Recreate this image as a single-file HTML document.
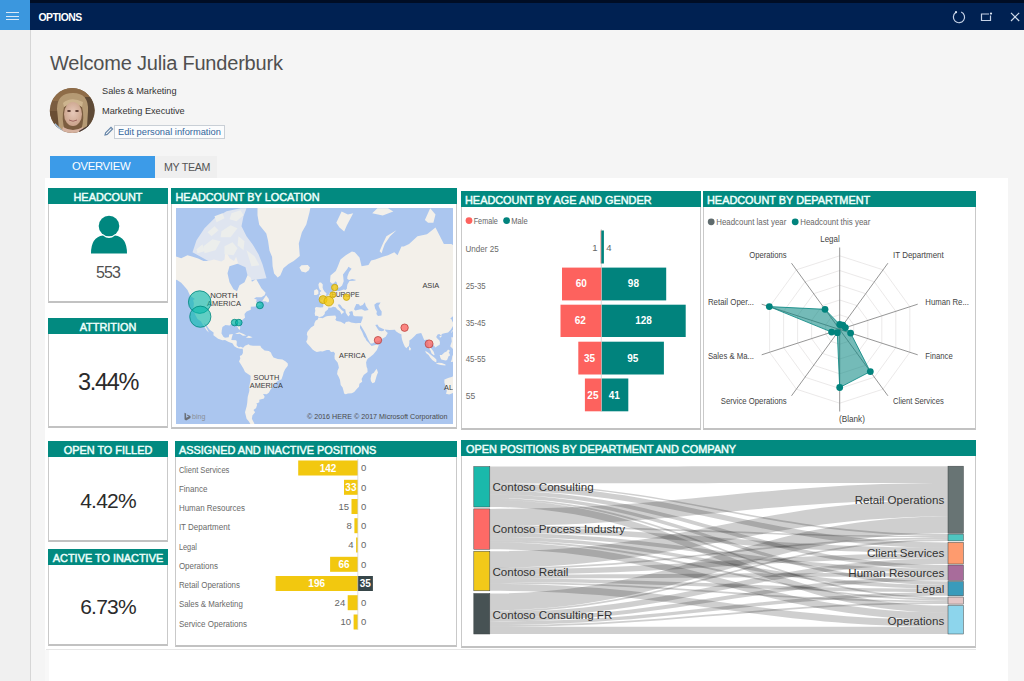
<!DOCTYPE html>
<html><head><meta charset="utf-8">
<style>
*{margin:0;padding:0;box-sizing:border-box}
html,body{width:1024px;height:681px;overflow:hidden;background:#f5f5f5;font-family:"Liberation Sans",sans-serif;position:relative}
.abs{position:absolute}
#topbar{left:0;top:0;width:1024px;height:30px;background:#002152;border-top:3px solid #000d24}
#ham{left:0;top:0;width:30px;height:30px;background:#3b97de}
#ham i{position:absolute;left:6px;width:13px;height:1.4px;background:#dbeaf7}
#opts{left:38.5px;top:11.5px;color:#fff;font-size:10.4px;font-weight:bold;letter-spacing:-0.5px}
#side{left:0;top:30px;width:31px;height:651px;background:#f0f0f0;border-right:1px solid #d6d6d6}
#canvas{left:45px;top:178px;width:963px;height:503px;background:#fff}
.card{position:absolute;background:#fff;border:1px solid #c9c9c9;border-bottom:2px solid #c2c2c2}
.hdr{position:absolute;left:-1px;top:-1px;right:-1px;height:15.5px;background:#028a80;color:#effffc;font-weight:normal;-webkit-text-stroke:0.45px #effffc;font-size:10.9px;line-height:19px;white-space:nowrap;overflow:hidden}
.kpi{position:absolute;left:0;right:0;text-align:center;color:#2b2b2b;font-size:21px;letter-spacing:-0.8px;line-height:24px}
.lbl{position:absolute;white-space:nowrap}
</style></head><body>
<div id="topbar" class="abs"></div>
<div id="ham" class="abs"><i style="top:12px"></i><i style="top:15.5px"></i><i style="top:19px"></i></div>
<div id="opts" class="abs">OPTIONS</div>
<div id="side" class="abs"></div>
<div id="canvas" class="abs"></div>
<div class="abs" style="left:46px;top:649px;width:930px;height:1px;background:#e6e6e6"></div>
<div class="abs" style="left:45px;top:650px;width:4px;height:31px;background:#f8f8f8"></div>

<!-- welcome -->
<div class="abs" style="left:50px;top:52px;font-size:20px;letter-spacing:-0.2px;color:#505050;white-space:nowrap">Welcome Julia Funderburk</div>
<svg class="abs" style="left:49px;top:87px" width="47" height="47" viewBox="0 0 47 47">
 <defs><clipPath id="av"><circle cx="23.2" cy="23.5" r="22.4"/></clipPath>
 <radialGradient id="fg" cx="0.5" cy="0.45" r="0.6"><stop offset="0" stop-color="#e6c8b8"/><stop offset="1" stop-color="#c8a088"/></radialGradient></defs>
 <g clip-path="url(#av)">
  <rect width="47" height="47" fill="#7b5d40"/>
  <rect x="0" y="0" width="47" height="14" fill="#8e6c48"/>
  <rect x="36" y="10" width="11" height="37" fill="#5e4a36"/>
  <rect x="0" y="24" width="10" height="23" fill="#6a4e34"/>
  <path d="M8 22 Q8 6 24 6 Q40 6 39 24 L38 40 L32 44 Q36 30 33 20 Q24 12 15 20 Q12 32 16 44 L10 42 Z" fill="#b59a74"/>
  <path d="M14 16 Q22 9 34 15 L33 20 Q24 13 15 20Z" fill="#cdb48e"/>
  <ellipse cx="24" cy="27" rx="9" ry="12" fill="url(#fg)"/>
  <path d="M14 40 Q24 46 34 40 L36 47 L12 47Z" fill="#d6b2a0"/>
  <path d="M6 36 Q12 42 17 47 L4 47Z" fill="#a7c6e6"/>
  <path d="M30 44 L40 38 L44 47 L30 47Z" fill="#3e3430"/>
  <ellipse cx="20" cy="24" rx="1.9" ry="0.9" fill="#5a3a30"/>
  <ellipse cx="28" cy="24" rx="1.9" ry="0.9" fill="#5a3a30"/>
  <path d="M20 33 Q24 35.5 28 33" stroke="#a06860" stroke-width="1" fill="none"/>
 </g>
</svg>
<div class="abs" style="left:102px;top:85.5px;font-size:9.2px;color:#333;white-space:nowrap">Sales &amp; Marketing</div>
<div class="abs" style="left:102px;top:105.5px;font-size:9.2px;color:#333;white-space:nowrap">Marketing Executive</div>
<svg class="abs" style="left:103px;top:126px" width="11" height="11" viewBox="0 0 11 11"><path d="M2 9 L2.6 6.8 L8 1.4 L9.6 3 L4.2 8.4 Z" fill="none" stroke="#6585a8" stroke-width="1.1"/></svg>
<div class="abs" style="left:114px;top:124.5px;width:110.5px;height:14px;border:1px solid #c9cfd6;background:#fbfcfd"></div>
<div class="abs" style="left:118px;top:127px;font-size:9.3px;color:#33669c;white-space:nowrap">Edit personal information</div>
<div class="abs" style="left:50px;top:156px;width:104.5px;height:21.5px;background:#3c9be8"></div>
<div class="abs" style="left:72px;top:160px;font-size:11.3px;letter-spacing:-0.3px;color:#fff;white-space:nowrap">OVERVIEW</div>
<div class="abs" style="left:154.5px;top:156px;width:62px;height:22px;background:#efefef"></div>
<div class="abs" style="left:164px;top:161px;font-size:10.7px;letter-spacing:-0.3px;color:#555;white-space:nowrap">MY TEAM</div>
<!-- window icons -->
<svg class="abs" style="left:940px;top:0" width="84" height="30" viewBox="940 0 84 30">
 <path d="M961.2 12 A5.6 5.6 0 1 1 955.7 12.6" fill="none" stroke="#c5d2e6" stroke-width="1.2"/>
 <circle cx="956" cy="12.2" r="1.1" fill="#dde6f2"/>
 <path d="M989 14 L981.5 14 L981.5 20.5 L990.5 20.5 L990.5 15.5" fill="none" stroke="#c5d2e6" stroke-width="1.2"/>
 <circle cx="991" cy="13.6" r="1.1" fill="#dde6f2"/>
 <path d="M1011 12.8 L1019.2 21 M1019.2 12.8 L1011 21" stroke="#d0dbea" stroke-width="1.2"/>
</svg>

<!-- cards -->
<div class="card" style="left:48px;top:188px;width:120px;height:115px"><div class="hdr" style="text-align:center">HEADCOUNT</div>
  <svg class="abs" style="left:41px;top:26px" width="38" height="40" viewBox="0 0 38 40"><circle cx="19" cy="11" r="10.3" fill="#00877f"/><path d="M1 38.5 Q1 22 13 20.5 Q19 25.5 25 20.5 Q37 22 37 38.5 Z" fill="#00877f"/></svg>
  <div class="kpi" style="top:72px;font-size:16px;letter-spacing:-0.9px;color:#505050">553</div></div>
<div class="card" style="left:48px;top:318px;width:120px;height:110px"><div class="hdr" style="text-align:center">ATTRITION</div>
  <div class="kpi" style="top:51px;font-size:23.5px;letter-spacing:-1.3px">3.44%</div></div>
<div class="card" style="left:48px;top:441px;width:120px;height:101px"><div class="hdr" style="text-align:center">OPEN TO FILLED</div>
  <div class="kpi" style="top:47px">4.42%</div></div>
<div class="card" style="left:48px;top:549px;width:120px;height:97px"><div class="hdr" style="text-align:center">ACTIVE TO INACTIVE</div>
  <div class="kpi" style="top:45px">6.73%</div></div>
<div class="card" style="left:171px;top:188px;width:286px;height:241px"><div class="hdr" style="padding-left:4.5px">HEADCOUNT BY LOCATION</div></div>
<div class="card" style="left:461px;top:191px;width:240px;height:239px"><div class="hdr" style="padding-left:4px">HEADCOUNT BY AGE AND GENDER</div></div>
<div class="card" style="left:703px;top:191px;width:273px;height:239px"><div class="hdr" style="padding-left:4px">HEADCOUNT BY DEPARTMENT</div></div>
<div class="card" style="left:175px;top:441px;width:282px;height:206px"><div class="hdr" style="padding-left:4px">ASSIGNED AND INACTIVE POSITIONS</div></div>
<div class="card" style="left:461px;top:440px;width:515px;height:208px"><div class="hdr" style="padding-left:5px">OPEN POSITIONS BY DEPARTMENT AND COMPANY</div></div>

<!-- map -->
<svg class="abs" style="left:175.5px;top:207.8px" width="277.5" height="216.7" viewBox="175.5 207.8 277.5 216.7" font-family="Liberation Sans">
 <rect x="175.5" y="207.8" width="277.5" height="216.7" fill="#abc6ef"/>
 <path fill="#dfe5f0" d="M192,252 L196,240 L204,228 L214,218 L226,211 L240,208 L246,208 L243,216 L241,226 L246,236 L252,244 L258,254 L262,264 L266,278 L250,280 L240,275 L226,270 L210,262Z"/>
 <path fill="#f3f0ea" d="M165.9,173.7 L175.4,256.3 L180.7,258.0 L187.0,255.1 L192.3,256.6 L197.6,258.3 L202.9,260.8 L208.1,260.8 L213.4,259.4 L220.8,261.3 L224.0,259.4 L225.0,250.5 L229.2,258.0 L233.5,260.8 L235.6,256.6 L237.7,263.5 L233.5,269.7 L242.4,274.7 L246.1,274.2 L250.3,277.5 L251.4,281.5 L255.6,278.9 L258.8,284.4 L260.9,288.1 L265.1,292.5 L264.1,295.0 L260.9,297.1 L255.6,297.1 L253.5,298.6 L256.2,299.3 L255.6,302.0 L259.8,303.5 L260.9,304.2 L257.7,305.2 L254.6,306.3 L250.3,306.6 L250.3,309.5 L246.1,311.2 L244.0,313.8 L244.5,317.6 L241.9,319.5 L238.7,322.5 L239.7,327.7 L239.3,329.8 L237.7,328.3 L237.0,326.6 L235.6,324.3 L233.5,323.8 L230.3,324.0 L229.2,325.4 L225.0,324.7 L221.9,326.8 L221.3,330.0 L221.0,333.3 L222.9,336.6 L224.5,337.6 L228.2,337.0 L228.7,334.4 L232.4,333.9 L231.4,337.1 L230.8,339.8 L235.6,340.0 L236.3,341.4 L236.1,345.0 L238.2,347.1 L240.3,346.6 L242.4,347.6 L242.1,348.6 L239.8,348.6 L236.6,347.8 L233.8,346.1 L231.9,343.0 L228.2,341.9 L224.5,339.8 L221.9,340.0 L217.6,338.5 L212.9,335.0 L213.1,332.2 L209.2,329.5 L205.5,324.5 L203.1,322.5 L204.5,325.4 L206.4,328.3 L208.1,331.7 L208.3,332.4 L206.0,330.0 L203.9,326.6 L201.1,322.5 L200.6,321.2 L197.0,318.9 L195.0,315.1 L193.4,311.2 L192.9,307.7 L193.4,303.0 L192.6,299.9 L194.4,298.9 L192.3,297.4 L189.7,295.8 L187.0,289.9 L184.9,287.2 L180.7,282.5 L176.5,279.9 L165.9,277.5Z M242.4,347.8 L244.5,345.6 L248.2,344.0 L249.3,345.0 L252.5,345.6 L256.7,345.6 L259.8,345.5 L260.9,347.6 L264.1,350.2 L268.3,350.7 L270.4,352.2 L271.4,354.8 L273.0,357.3 L277.3,358.8 L282.0,359.2 L285.2,361.2 L287.3,363.4 L287.3,365.5 L284.6,369.1 L283.1,372.3 L282.5,374.9 L280.9,379.3 L277.8,380.4 L273.6,383.7 L272.7,386.6 L270.4,388.9 L268.3,392.5 L266.2,394.1 L262.5,393.7 L264.1,396.2 L263.5,398.2 L258.8,399.5 L258.8,402.1 L255.6,403.5 L256.7,404.2 L255.6,407.7 L253.0,409.9 L254.6,412.1 L251.9,415.2 L251.4,418.5 L252.1,420.1 L254.0,423.6 L250.3,424.5 L248.2,421.0 L246.1,418.5 L244.5,412.1 L246.1,406.3 L246.7,402.8 L247.2,396.9 L248.8,390.7 L248.8,386.0 L250.0,380.4 L250.1,375.5 L244.5,371.7 L243.0,368.6 L240.3,364.0 L238.5,361.4 L239.8,358.3 L239.3,355.8 L241.4,354.8 L242.4,352.7 L242.4,349.7 L242.1,348.6Z M318.3,317.0 L322.1,316.1 L324.2,313.8 L324.4,311.8 L327.6,309.1 L327.9,307.3 L330.5,307.6 L332.6,306.5 L335.1,307.0 L336.9,309.4 L339.5,311.0 L341.1,314.4 L340.9,314.5 L342.1,313.1 L343.7,311.7 L341.1,309.9 L338.4,306.9 L337.2,304.5 L338.7,304.0 L340.0,304.9 L342.1,307.7 L344.8,309.4 L345.3,312.5 L346.9,315.1 L347.9,316.4 L349.5,314.4 L348.5,311.8 L351.6,310.8 L352.2,311.8 L352.7,315.1 L354.3,316.1 L356.9,316.0 L362.2,316.4 L362.1,318.2 L361.1,320.7 L360.4,322.7 L360.1,324.9 L361.1,326.6 L363.2,330.0 L365.3,333.9 L367.5,338.7 L369.4,342.4 L370.1,343.3 L371.7,343.2 L374.8,341.9 L379.1,340.2 L382.2,338.2 L385.2,336.6 L387.3,332.8 L385.9,331.6 L383.6,328.7 L383.3,330.6 L381.2,331.1 L378.5,330.6 L376.9,328.3 L374.8,324.9 L376.9,324.3 L378.5,326.7 L381.7,328.3 L384.3,329.2 L389.1,329.8 L394.4,329.6 L395.4,331.1 L398.0,332.8 L401.0,334.4 L401.0,336.6 L401.7,339.8 L402.8,343.0 L404.4,346.6 L406.0,348.0 L406.7,347.1 L408.4,345.8 L408.9,342.6 L408.8,340.3 L411.0,338.7 L413.9,336.1 L416.0,333.9 L418.1,333.3 L420.7,332.8 L421.6,334.8 L423.7,339.8 L427.1,339.3 L428.1,344.0 L428.1,347.6 L430.0,350.2 L431.1,353.4 L433.4,355.0 L434.1,354.8 L433.3,351.9 L432.1,350.0 L430.2,347.6 L429.7,342.4 L432.3,344.0 L435.0,347.4 L436.9,345.7 L439.2,344.5 L439.5,342.4 L438.9,340.3 L436.6,338.1 L435.7,336.7 L437.1,334.4 L438.7,333.8 L440.8,335.2 L441.3,333.9 L443.9,333.1 L447.6,332.2 L450.3,329.5 L452.4,326.0 L452.9,323.1 L451.9,321.3 L450.8,318.9 L449.7,318.2 L452.9,315.7 L456.1,311.8 L471.9,297.4 L471.9,248.9 L461.4,250.5 L450.8,243.7 L443.4,243.7 L435.0,227.4 L426.5,234.0 L417.0,236.1 L408.6,243.7 L403.3,246.2 L401.0,246.2 L397.0,255.1 L393.8,252.1 L387.5,255.1 L382.2,256.6 L374.8,259.4 L370.6,260.3 L368.0,264.8 L361.1,266.0 L359.0,257.2 L354.3,252.1 L351.4,251.4 L345.3,255.1 L340.0,259.4 L337.4,266.0 L335.3,270.8 L330.0,275.3 L329.5,281.5 L331.6,283.5 L333.2,283.1 L335.3,281.1 L336.3,282.5 L336.9,285.4 L337.7,288.1 L339.5,287.0 L341.6,285.4 L343.2,281.1 L342.5,274.2 L344.2,272.0 L346.9,268.5 L347.9,266.5 L351.1,268.5 L348.5,272.0 L346.9,276.4 L346.7,278.5 L348.5,279.7 L351.6,278.7 L355.8,279.7 L353.7,280.5 L349.0,280.9 L346.9,284.4 L346.4,287.2 L346.6,288.1 L345.2,289.9 L343.2,289.4 L339.0,290.8 L335.8,290.8 L334.8,289.0 L335.3,284.4 L332.9,286.3 L333.3,289.0 L333.3,290.9 L331.6,291.6 L329.2,292.5 L327.9,295.1 L326.0,295.9 L324.4,298.0 L322.6,297.9 L322.1,299.6 L319.2,299.9 L321.9,301.7 L322.9,304.2 L322.6,307.0 L320.0,307.2 L315.8,306.8 L314.4,307.9 L314.8,310.5 L314.2,313.4 L314.8,315.7 L316.4,315.5 L317.9,316.4Z M318.0,317.2 L322.1,318.1 L325.3,316.4 L327.4,315.9 L334.8,315.3 L335.8,317.6 L334.8,319.5 L336.3,320.7 L340.2,321.5 L344.2,323.9 L345.3,321.9 L348.5,321.2 L350.6,322.3 L355.3,323.1 L358.0,322.7 L360.4,322.7 L359.5,326.6 L359.5,327.7 L361.7,331.7 L363.6,336.6 L364.8,338.0 L365.9,340.3 L368.0,342.4 L369.9,344.5 L371.1,345.7 L374.8,344.8 L378.3,344.2 L378.0,345.7 L376.4,349.7 L374.8,351.7 L372.7,354.3 L369.6,356.8 L367.5,358.3 L366.4,359.9 L365.6,362.4 L366.1,366.5 L366.9,368.6 L367.1,371.7 L363.2,374.9 L361.1,378.7 L361.7,381.5 L358.9,383.6 L358.5,386.6 L356.7,388.3 L353.7,391.7 L351.3,393.1 L347.4,393.4 L345.3,394.1 L343.6,393.4 L343.2,391.3 L342.1,387.2 L340.2,384.9 L339.5,379.8 L338.4,377.1 L336.6,373.9 L337.1,370.2 L338.4,367.6 L337.9,365.0 L337.1,362.4 L334.2,358.8 L334.0,355.8 L334.5,353.2 L333.2,351.6 L330.5,351.9 L328.9,349.9 L326.3,349.9 L322.1,351.4 L320.0,351.0 L316.3,351.8 L314.2,350.7 L312.1,349.3 L310.2,347.1 L308.4,345.1 L306.5,343.0 L305.7,341.2 L306.8,339.3 L307.1,336.1 L306.3,334.4 L306.8,331.7 L308.6,329.5 L310.5,327.2 L313.6,325.4 L313.9,323.1 L315.2,320.3 L317.0,319.5Z M298.9,267.3 L301.0,265.0 L307.3,264.8 L309.4,267.3 L308.4,270.1 L305.2,272.2 L301.0,271.3Z M376.2,368.6 L377.5,372.3 L376.4,374.9 L374.3,382.0 L372.0,383.1 L370.4,380.9 L370.1,378.2 L371.1,373.9 L373.3,372.5 L374.8,370.2Z M318.2,297.2 L325.6,295.6 L326.0,293.1 L324.2,291.6 L322.6,289.0 L322.1,287.2 L322.3,284.4 L320.5,282.3 L318.9,282.3 L317.9,284.4 L318.4,287.2 L319.1,289.4 L321.0,290.8 L319.3,292.0 L319.5,294.1 L321.0,295.1 L318.7,294.6Z M317.9,293.8 L317.9,290.8 L316.3,288.7 L313.6,290.4 L313.6,294.8 L315.8,294.8Z M408.6,346.3 L410.6,348.6 L409.7,350.2 L408.4,349.7Z M424.7,350.6 L427.6,352.2 L430.0,354.3 L434.4,357.8 L436.0,359.6 L435.8,362.2 L433.9,361.4 L431.8,359.9 L429.7,357.3 L428.1,354.8 L425.5,352.7Z M435.3,363.2 L438.1,362.6 L441.3,362.9 L445.0,364.3 L445.0,365.2 L440.2,364.7 L436.6,363.9Z M439.2,354.8 L439.8,357.3 L440.8,359.4 L445.0,360.4 L446.6,359.9 L448.2,355.8 L449.7,355.3 L448.2,351.9 L449.7,350.9 L447.6,349.2 L446.1,351.2 L443.9,352.4 L441.3,354.7Z M450.3,361.9 L451.3,359.4 L451.9,355.3 L456.1,354.8 L454.0,357.3 L452.9,361.4Z M450.8,337.1 L453.4,337.1 L452.9,341.9 L455.0,343.5 L457.1,347.1 L457.1,350.2 L452.9,349.2 L449.7,346.1 L451.3,341.4Z M451.0,332.8 L452.8,329.8 L451.9,330.0 L450.8,331.7Z M438.8,336.4 L440.8,335.4 L441.3,336.1 L439.7,337.5Z M443.9,379.3 L444.7,379.0 L447.6,377.7 L451.9,376.5 L456.1,371.7 L461.4,368.6 L467.7,368.6 L471.9,373.9 L477.2,371.7 L482.4,379.3 L486.1,386.0 L482.4,397.5 L473.0,398.5 L469.8,394.4 L467.7,394.4 L462.4,390.1 L456.1,391.3 L448.7,394.4 L445.5,393.5 L446.3,390.7 L445.2,386.0 L443.9,382.6Z M261.6,301.1 L265.6,295.0 L268.3,298.9 L268.6,301.2 L267.2,302.3 L265.1,301.1Z M234.5,333.6 L238.7,332.0 L242.4,333.6 L245.9,335.3 L242.4,335.6 L239.3,333.6 L236.6,333.9Z M245.6,337.2 L248.2,335.6 L252.1,337.0 L249.3,337.7 L245.8,337.6Z M335.8,222.5 L341.1,211.3 L347.4,214.3 L352.7,213.1 L346.4,225.0 L343.7,231.4 L339.0,227.4Z M379.1,251.1 L382.2,243.7 L385.9,236.1 L395.9,230.1 L389.6,236.1 L384.3,243.7 L382.2,249.5 L381.2,253.0Z M424.4,219.9 L429.7,208.1 L435.0,214.3 L432.9,222.5 L427.6,222.5Z M371.7,213.1 L376.9,208.1 L387.5,208.1 L392.8,211.3 L382.2,215.4Z M233.5,270.8 L239.3,272.0 L235.6,274.2Z"/>
 <path fill="#abc6ef" d="M353.5,309.1 L354.3,307.0 L355.8,303.9 L358.5,304.0 L359.5,305.8 L362.2,304.8 L364.3,302.0 L365.3,305.6 L368.1,309.7 L364.3,310.6 L361.1,309.1 L359.0,309.3 L354.8,310.2Z M373.8,304.5 L376.3,302.6 L380.1,302.3 L378.0,305.6 L379.6,309.1 L381.2,311.2 L381.0,315.3 L377.5,315.7 L375.9,313.8 L376.4,311.2 L374.6,308.4Z"/>
 <path fill="#abc6ef" d="M229,266 L237,263.5 L245,267 L247,275 L244,282 L239,285 L236.5,291 L233,289 L229,282 L227,273Z"/>
 <path fill="#f3f0ea" d="M257,207 L310,207 L309,212 L305.8,224.4 L301.4,232 L298.3,243.4 L299.3,255.7 L293.2,260.8 L288,263.9 L282.9,268 L279.8,275.2 L277.2,277.3 L273.6,273.2 L272.1,266 L271.6,256.7 L269,250.6 L267.5,240.3 L265.8,233.4 L258.7,224.6 L257,215Z"/>
 <path fill="#eceeec" d="M203,246 L212,239 L220,241 L215,250 L204,253Z M221,231 L230,225 L237,228 L230,237 L220,237Z M231,213 L240,210 L243,215 L236,221 L229,219Z M207,232 L214,226 L218,230 L211,236Z M224,246 L232,242 L237,248 L233,255 L224,254Z M238,236 L244,241 L243,250 L237,245Z M246,250 L254,256 L259,265 L251,266Z M196,249 L202,244 L204,251 L197,253Z M214,216 L222,213 L224,218 L216,222Z"/>
 <g fill="#3a3a3a" font-size="7.2">
  <text x="209.7" y="297.6" textLength="27.5" lengthAdjust="spacingAndGlyphs">NORTH</text>
  <text x="206.5" y="305.6" textLength="33.9" lengthAdjust="spacingAndGlyphs">AMERICA</text>
  <text x="330.7" y="296.9" textLength="28.2" lengthAdjust="spacingAndGlyphs">EUROPE</text>
  <text x="421.9" y="287.9" textLength="16.9" lengthAdjust="spacingAndGlyphs">ASIA</text>
  <text x="338.6" y="358.1" textLength="26.6" lengthAdjust="spacingAndGlyphs">AFRICA</text>
  <text x="253" y="379.5" textLength="25.7" lengthAdjust="spacingAndGlyphs">SOUTH</text>
  <text x="249.3" y="388.2" textLength="33" lengthAdjust="spacingAndGlyphs">AMERICA</text>
  <text x="443.6" y="389.8" textLength="9" lengthAdjust="spacingAndGlyphs">AL</text>
 </g>
 <circle cx="199.2" cy="301.9" r="11.3" fill="#01b8aa" fill-opacity="0.6" stroke="#01867e" stroke-width="0.8"/>
 <circle cx="199.8" cy="316.5" r="10.6" fill="#01b8aa" fill-opacity="0.6" stroke="#01867e" stroke-width="0.8"/>
 <circle cx="234.1" cy="322.4" r="3.3" fill="#01b8aa" fill-opacity="0.7" stroke="#01867e" stroke-width="0.8"/>
 <circle cx="238.3" cy="322.4" r="3.3" fill="#01b8aa" fill-opacity="0.7" stroke="#01867e" stroke-width="0.8"/>
 <circle cx="259.4" cy="305.1" r="3.5" fill="#01b8aa" fill-opacity="0.7" stroke="#01867e" stroke-width="0.8"/>
 <circle cx="334.2" cy="287.3" r="3.2" fill="#f2c80f" fill-opacity="0.8" stroke="#c9a50a" stroke-width="0.8"/>
 <circle cx="322.6" cy="299.4" r="4" fill="#f2c80f" fill-opacity="0.8" stroke="#c9a50a" stroke-width="0.8"/>
 <circle cx="328.3" cy="301" r="4.8" fill="#f2c80f" fill-opacity="0.8" stroke="#c9a50a" stroke-width="0.8"/>
 <circle cx="332.3" cy="294.6" r="3" fill="#f2c80f" fill-opacity="0.8" stroke="#c9a50a" stroke-width="0.8"/>
 <circle cx="346" cy="297" r="3.2" fill="#f2c80f" fill-opacity="0.8" stroke="#c9a50a" stroke-width="0.8"/>
 <circle cx="377.5" cy="340" r="3.7" fill="#fd625e" fill-opacity="0.75" stroke="#b9443f" stroke-width="0.8"/>
 <circle cx="404.1" cy="327.5" r="3.7" fill="#fd625e" fill-opacity="0.75" stroke="#b9443f" stroke-width="0.8"/>
 <circle cx="428.6" cy="343.7" r="4" fill="#fd625e" fill-opacity="0.75" stroke="#b9443f" stroke-width="0.8"/>
 <path d="M184 412.5 L185.6 413.2 L185.6 417.6 L188.4 416.4 L186.8 415.5 L186.3 414.4 L190 415.9 L190 417.8 L185.6 420.3 L184 419.4 Z" fill="#6a6f78"/>
 <text x="191.5" y="419" font-size="6.5" fill="#8a8f98" textLength="13.5" lengthAdjust="spacingAndGlyphs">bing</text>
 <text x="306.4" y="419.3" font-size="6.6" fill="#4a4a4a" textLength="140.6" lengthAdjust="spacingAndGlyphs">© 2016 HERE    © 2017 Microsoft Corporation</text>
</svg>

<!-- /map -->
<!-- age chart -->
<svg class="abs" style="left:0;top:0" width="1024" height="681" viewBox="0 0 1024 681" font-family="Liberation Sans">
 <circle cx="469" cy="220.6" r="3.4" fill="#fd625e"/>
 <text x="473.7" y="223.8" font-size="9" fill="#666" textLength="24.2" lengthAdjust="spacingAndGlyphs">Female</text>
 <circle cx="506.6" cy="220.6" r="3.4" fill="#01837d"/>
 <text x="511.2" y="223.8" font-size="9" fill="#666" textLength="16.4" lengthAdjust="spacingAndGlyphs">Male</text>
 <g font-size="8.7" fill="#6a6a6a">
  <text x="465.5" y="251.5" textLength="33.2" lengthAdjust="spacingAndGlyphs">Under 25</text>
  <text x="465.7" y="288.6" textLength="20" lengthAdjust="spacingAndGlyphs">25-35</text>
  <text x="465.7" y="325.5" textLength="20" lengthAdjust="spacingAndGlyphs">35-45</text>
  <text x="465.7" y="361.8" textLength="20" lengthAdjust="spacingAndGlyphs">45-55</text>
  <text x="465.7" y="399.2" textLength="9.5" lengthAdjust="spacingAndGlyphs">55</text>
 </g>
 <line x1="601.3" y1="229" x2="601.3" y2="412" stroke="#d0d0d0" stroke-width="0.8"/>
 <g fill="#fd625e">
  <rect x="600.6" y="230.5" width="0.7" height="33"/>
  <rect x="562" y="267.6" width="39.3" height="32.8"/>
  <rect x="560.5" y="304.7" width="40.8" height="32.3"/>
  <rect x="578.3" y="341.7" width="23" height="32.8"/>
  <rect x="584.9" y="378.5" width="16.4" height="32.8"/>
 </g>
 <g fill="#01837d">
  <rect x="601.3" y="230.5" width="2.6" height="33"/>
  <rect x="601.8" y="267.6" width="64.4" height="32.8"/>
  <rect x="601.8" y="304.7" width="83.9" height="32.3"/>
  <rect x="601.8" y="341.7" width="62.1" height="32.8"/>
  <rect x="601.8" y="378.5" width="26.5" height="32.8"/>
 </g>
 <g font-size="9.5" fill="#666" text-anchor="middle">
  <text x="594.8" y="251.2">1</text><text x="608.8" y="251.2">4</text>
 </g>
 <g font-size="10" font-weight="bold" fill="#fff" text-anchor="middle">
  <text x="581.2" y="287.2">60</text><text x="633.4" y="287.2">98</text>
  <text x="580.2" y="324.2">62</text><text x="643.5" y="324.2">128</text>
  <text x="589.6" y="361.6">35</text><text x="632.7" y="361.6">95</text>
  <text x="592.9" y="398.6">25</text><text x="614.2" y="398.6">41</text>
 </g>
</svg>
<!-- radar -->
<svg class="abs" style="left:0;top:0" width="1024" height="681" viewBox="0 0 1024 681" font-family="Liberation Sans">
 <circle cx="711.2" cy="221.8" r="3.4" fill="#5f6b6d"/>
 <text x="716.3" y="225" font-size="9" fill="#666" textLength="70" lengthAdjust="spacingAndGlyphs">Headcount last year</text>
 <circle cx="795.2" cy="221.8" r="3.4" fill="#01837d"/>
 <text x="800.3" y="225" font-size="9" fill="#666" textLength="70" lengthAdjust="spacingAndGlyphs">Headcount this year</text>
 <polygon points="839.7,314.8 848.4,317.6 853.7,324.9 853.7,334.1 848.4,341.4 839.7,344.2 831.0,341.4 825.7,334.1 825.7,324.9 831.0,317.6" fill="none" stroke="#e6e3e3" stroke-width="0.8"/>
 <polygon points="839.7,300.0 857.0,305.6 867.8,320.4 867.8,338.6 857.0,353.4 839.7,359.0 822.4,353.4 811.6,338.6 811.6,320.4 822.4,305.6" fill="none" stroke="#e6e3e3" stroke-width="0.8"/>
 <polygon points="839.7,285.2 865.7,293.7 881.8,315.8 881.8,343.2 865.7,365.3 839.7,373.8 813.7,365.3 797.6,343.2 797.6,315.8 813.7,293.7" fill="none" stroke="#e6e3e3" stroke-width="0.8"/>
 <polygon points="839.7,270.5 874.4,281.8 895.8,311.3 895.8,347.7 874.4,377.2 839.7,388.5 805.0,377.2 783.6,347.7 783.6,311.3 805.0,281.8" fill="none" stroke="#e6e3e3" stroke-width="0.8"/>
 <polygon points="839.7,255.8 883.0,269.8 909.8,306.7 909.8,352.3 883.0,389.2 839.7,403.2 796.4,389.2 769.6,352.3 769.6,306.7 796.4,269.8" fill="none" stroke="#e6e3e3" stroke-width="0.8"/>
 <line x1="839.7" y1="329.5" x2="839.7" y2="247.5" stroke="#8a8a8a" stroke-width="0.9"/>
 <line x1="839.7" y1="329.5" x2="887.9" y2="263.2" stroke="#8a8a8a" stroke-width="0.9"/>
 <line x1="839.7" y1="329.5" x2="917.7" y2="304.2" stroke="#8a8a8a" stroke-width="0.9"/>
 <line x1="839.7" y1="329.5" x2="917.7" y2="354.8" stroke="#8a8a8a" stroke-width="0.9"/>
 <line x1="839.7" y1="329.5" x2="887.9" y2="395.8" stroke="#8a8a8a" stroke-width="0.9"/>
 <line x1="839.7" y1="329.5" x2="839.7" y2="411.5" stroke="#8a8a8a" stroke-width="0.9"/>
 <line x1="839.7" y1="329.5" x2="791.5" y2="395.8" stroke="#8a8a8a" stroke-width="0.9"/>
 <line x1="839.7" y1="329.5" x2="761.7" y2="354.8" stroke="#8a8a8a" stroke-width="0.9"/>
 <line x1="839.7" y1="329.5" x2="761.7" y2="304.2" stroke="#8a8a8a" stroke-width="0.9"/>
 <line x1="839.7" y1="329.5" x2="791.5" y2="263.2" stroke="#8a8a8a" stroke-width="0.9"/>
 <polygon points="839.7,324.5 842.9,325.1 845.4,327.6 850.6,333.1 870.3,371.6 839.7,387.5 837.3,332.7 831.6,332.1 769.3,306.6 825.0,309.3" fill="#01837d" fill-opacity="0.55" stroke="#01837d" stroke-width="0.8"/>
 <circle cx="839.7" cy="324.5" r="3.4" fill="#01837d"/>
 <circle cx="842.9" cy="325.1" r="3.4" fill="#01837d"/>
 <circle cx="845.4" cy="327.6" r="3.4" fill="#01837d"/>
 <circle cx="850.6" cy="333.1" r="3.4" fill="#01837d"/>
 <circle cx="870.3" cy="371.6" r="3.4" fill="#01837d"/>
 <circle cx="839.7" cy="387.5" r="3.4" fill="#01837d"/>
 <circle cx="837.3" cy="332.7" r="3.4" fill="#01837d"/>
 <circle cx="831.6" cy="332.1" r="3.4" fill="#01837d"/>
 <circle cx="769.3" cy="306.6" r="3.4" fill="#01837d"/>
 <circle cx="825.0" cy="309.3" r="3.4" fill="#01837d"/>
 <g font-size="9" fill="#444">
  <text x="820.3" y="242" textLength="19.4" lengthAdjust="spacingAndGlyphs">Legal</text>
  <text x="893" y="258.4" textLength="50.7" lengthAdjust="spacingAndGlyphs">IT Department</text>
  <text x="925.3" y="304.6" textLength="43.6" lengthAdjust="spacingAndGlyphs">Human Re...</text>
  <text x="925.3" y="359.2" textLength="27.4" lengthAdjust="spacingAndGlyphs">Finance</text>
  <text x="893" y="403.8" textLength="50.7" lengthAdjust="spacingAndGlyphs">Client Services</text>
  <text x="839" y="421.6" textLength="25.9" lengthAdjust="spacingAndGlyphs">(Blank)</text>
  <text x="720.8" y="403.8" textLength="65.9" lengthAdjust="spacingAndGlyphs">Service Operations</text>
  <text x="707.9" y="359.2" textLength="46.1" lengthAdjust="spacingAndGlyphs">Sales &amp; Ma...</text>
  <text x="707.9" y="304.6" textLength="46.1" lengthAdjust="spacingAndGlyphs">Retail Oper...</text>
  <text x="749.2" y="258.4" textLength="37.5" lengthAdjust="spacingAndGlyphs">Operations</text>
 </g>
</svg>
<!-- assigned bars -->
<svg class="abs" style="left:0;top:0" width="1024" height="681" viewBox="0 0 1024 681" font-family="Liberation Sans">
 <g font-size="9.6" fill="#6a6a6a">
  <text x="178.9" y="472.6" textLength="50.5" lengthAdjust="spacingAndGlyphs">Client Services</text>
  <text x="178.9" y="491.8" textLength="28.5" lengthAdjust="spacingAndGlyphs">Finance</text>
  <text x="178.9" y="511.1" textLength="66" lengthAdjust="spacingAndGlyphs">Human Resources</text>
  <text x="178.9" y="530.3" textLength="51" lengthAdjust="spacingAndGlyphs">IT Department</text>
  <text x="178.9" y="549.6" textLength="18" lengthAdjust="spacingAndGlyphs">Legal</text>
  <text x="178.9" y="568.8" textLength="39" lengthAdjust="spacingAndGlyphs">Operations</text>
  <text x="178.9" y="588.1" textLength="61" lengthAdjust="spacingAndGlyphs">Retail Operations</text>
  <text x="178.9" y="607.3" textLength="64" lengthAdjust="spacingAndGlyphs">Sales &amp; Marketing</text>
  <text x="178.9" y="626.6" textLength="68" lengthAdjust="spacingAndGlyphs">Service Operations</text>
 </g>
 <rect x="298.2" y="460.5" width="59.6" height="15" fill="#f2c80f"/>
 <text x="361" y="471.4" font-size="9.5" fill="#666">0</text>
 <text x="328.0" y="471.6" font-size="10" font-weight="bold" fill="#fff" text-anchor="middle">142</text>
 <rect x="344.0" y="479.8" width="13.8" height="15" fill="#f2c80f"/>
 <text x="361" y="490.6" font-size="9.5" fill="#666">0</text>
 <text x="350.9" y="490.9" font-size="10" font-weight="bold" fill="#fff" text-anchor="middle">33</text>
 <rect x="351.5" y="499.0" width="6.3" height="15" fill="#f2c80f"/>
 <text x="361" y="509.9" font-size="9.5" fill="#666">0</text>
 <text x="349.0" y="509.9" font-size="9.5" fill="#666" text-anchor="end">15</text>
 <rect x="354.4" y="518.2" width="3.4" height="15" fill="#f2c80f"/>
 <text x="361" y="529.1" font-size="9.5" fill="#666">0</text>
 <text x="351.9" y="529.1" font-size="9.5" fill="#666" text-anchor="end">8</text>
 <rect x="356.1" y="537.5" width="1.7" height="15" fill="#f2c80f"/>
 <text x="361" y="548.4" font-size="9.5" fill="#666">0</text>
 <text x="353.6" y="548.4" font-size="9.5" fill="#666" text-anchor="end">4</text>
 <rect x="330.1" y="556.8" width="27.7" height="15" fill="#f2c80f"/>
 <text x="361" y="567.6" font-size="9.5" fill="#666">0</text>
 <text x="344.0" y="567.9" font-size="10" font-weight="bold" fill="#fff" text-anchor="middle">66</text>
 <rect x="275.6" y="576.0" width="82.2" height="15" fill="#f2c80f"/>
 <rect x="357.8" y="576.0" width="15.1" height="15" fill="#374649"/>
 <text x="365.3" y="587.1" font-size="10" font-weight="bold" fill="#fff" text-anchor="middle">35</text>
 <text x="316.7" y="587.1" font-size="10" font-weight="bold" fill="#fff" text-anchor="middle">196</text>
 <rect x="347.7" y="595.2" width="10.1" height="15" fill="#f2c80f"/>
 <text x="361" y="606.1" font-size="9.5" fill="#666">0</text>
 <text x="345.2" y="606.1" font-size="9.5" fill="#666" text-anchor="end">24</text>
 <rect x="353.6" y="614.5" width="4.2" height="15" fill="#f2c80f"/>
 <text x="361" y="625.4" font-size="9.5" fill="#666">0</text>
 <text x="351.1" y="625.4" font-size="9.5" fill="#666" text-anchor="end">10</text>
 <line x1="357.8" y1="459" x2="357.8" y2="630" stroke="#c8c8c8" stroke-width="0.6"/>
</svg>
<!-- sankey -->
<svg class="abs" style="left:0;top:0" width="1024" height="681" viewBox="0 0 1024 681" font-family="Liberation Sans">
 <g fill="#000" fill-opacity="0.19">
  <path d="M489.8,466.6 C682,466.6 756,466.2 948.0,466.2 L948.0,482.9 C756,482.9 682,483.5 489.8,483.5Z"/>
  <path d="M489.8,483.5 C682,483.5 756,534.1 948.0,534.1 L948.0,535.8 C756,535.8 682,485.2 489.8,485.2Z"/>
  <path d="M489.8,485.2 C682,485.2 756,542.4 948.0,542.4 L948.0,547.8 C756,547.8 682,490.6 489.8,490.6Z"/>
  <path d="M489.8,490.6 C682,490.6 756,565.0 948.0,565.0 L948.0,568.9 C756,568.9 682,494.5 489.8,494.5Z"/>
  <path d="M489.8,494.5 C682,494.5 756,581.6 948.0,581.6 L948.0,585.1 C756,585.1 682,498.1 489.8,498.1Z"/>
  <path d="M489.8,498.1 C682,498.1 756,597.0 948.0,597.0 L948.0,598.8 C756,598.8 682,499.9 489.8,499.9Z"/>
  <path d="M489.8,499.9 C682,499.9 756,605.6 948.0,605.6 L948.0,612.7 C756,612.7 682,507.0 489.8,507.0Z"/>
  <path d="M489.8,508.9 C682,508.9 756,482.9 948.0,482.9 L948.0,499.7 C756,499.7 682,525.8 489.8,525.8Z"/>
  <path d="M489.8,525.8 C682,525.8 756,535.8 948.0,535.8 L948.0,537.5 C756,537.5 682,527.5 489.8,527.5Z"/>
  <path d="M489.8,527.5 C682,527.5 756,547.8 948.0,547.8 L948.0,553.2 C756,553.2 682,532.9 489.8,532.9Z"/>
  <path d="M489.8,532.9 C682,532.9 756,568.9 948.0,568.9 L948.0,572.7 C756,572.7 682,536.8 489.8,536.8Z"/>
  <path d="M489.8,536.8 C682,536.8 756,585.1 948.0,585.1 L948.0,588.7 C756,588.7 682,540.4 489.8,540.4Z"/>
  <path d="M489.8,540.4 C682,540.4 756,598.8 948.0,598.8 L948.0,600.5 C756,600.5 682,542.2 489.8,542.2Z"/>
  <path d="M489.8,542.2 C682,542.2 756,612.7 948.0,612.7 L948.0,619.8 C756,619.8 682,549.3 489.8,549.3Z"/>
  <path d="M489.8,551.2 C682,551.2 756,499.7 948.0,499.7 L948.0,516.5 C756,516.5 682,567.7 489.8,567.7Z"/>
  <path d="M489.8,567.7 C682,567.7 756,537.5 948.0,537.5 L948.0,539.2 C756,539.2 682,569.4 489.8,569.4Z"/>
  <path d="M489.8,569.4 C682,569.4 756,553.2 948.0,553.2 L948.0,558.6 C756,558.6 682,574.7 489.8,574.7Z"/>
  <path d="M489.8,574.7 C682,574.7 756,572.7 948.0,572.7 L948.0,576.6 C756,576.6 682,578.5 489.8,578.5Z"/>
  <path d="M489.8,578.5 C682,578.5 756,588.7 948.0,588.7 L948.0,592.2 C756,592.2 682,582.0 489.8,582.0Z"/>
  <path d="M489.8,582.0 C682,582.0 756,600.5 948.0,600.5 L948.0,602.3 C756,602.3 682,583.8 489.8,583.8Z"/>
  <path d="M489.8,583.8 C682,583.8 756,619.8 948.0,619.8 L948.0,626.9 C756,626.9 682,590.8 489.8,590.8Z"/>
  <path d="M489.8,593.5 C682,593.5 756,516.5 948.0,516.5 L948.0,533.2 C756,533.2 682,610.4 489.8,610.4Z"/>
  <path d="M489.8,610.4 C682,610.4 756,539.2 948.0,539.2 L948.0,540.9 C756,540.9 682,612.1 489.8,612.1Z"/>
  <path d="M489.8,612.1 C682,612.1 756,558.6 948.0,558.6 L948.0,564.0 C756,564.0 682,617.6 489.8,617.6Z"/>
  <path d="M489.8,617.6 C682,617.6 756,576.6 948.0,576.6 L948.0,580.4 C756,580.4 682,621.5 489.8,621.5Z"/>
  <path d="M489.8,621.5 C682,621.5 756,592.2 948.0,592.2 L948.0,595.8 C756,595.8 682,625.0 489.8,625.0Z"/>
  <path d="M489.8,625.0 C682,625.0 756,602.3 948.0,602.3 L948.0,604.1 C756,604.1 682,626.8 489.8,626.8Z"/>
  <path d="M489.8,626.8 C682,626.8 756,626.9 948.0,626.9 L948.0,634.0 C756,634.0 682,634.0 489.8,634.0Z"/>
 </g>
 <rect x="473.8" y="466.6" width="16" height="40.4" fill="#1ab9ab" stroke="#3c4446" stroke-width="0.5"/>
 <rect x="473.8" y="508.9" width="16" height="40.4" fill="#fd6a66" stroke="#3c4446" stroke-width="0.5"/>
 <rect x="473.8" y="551.2" width="16" height="39.6" fill="#f2c919" stroke="#3c4446" stroke-width="0.5"/>
 <rect x="473.8" y="593.5" width="16" height="40.5" fill="#475254" stroke="#3c4446" stroke-width="0.5"/>
 <rect x="948" y="466.2" width="15.4" height="67.0" fill="#687474" stroke="#3c4446" stroke-width="0.5"/>
 <rect x="948" y="534.1" width="15.4" height="6.8" fill="#4fc6c0" stroke="#3c4446" stroke-width="0.5"/>
 <rect x="948" y="542.4" width="15.4" height="21.6" fill="#fe9b6e" stroke="#3c4446" stroke-width="0.5"/>
 <rect x="948" y="565.0" width="15.4" height="15.4" fill="#a86c9b" stroke="#3c4446" stroke-width="0.5"/>
 <rect x="948" y="581.6" width="15.4" height="14.2" fill="#3a9bbb" stroke="#3c4446" stroke-width="0.5"/>
 <rect x="948" y="597.0" width="15.4" height="7.1" fill="#e2c6c6" stroke="#3c4446" stroke-width="0.5"/>
 <rect x="948" y="605.6" width="15.4" height="28.4" fill="#8dd5ec" stroke="#3c4446" stroke-width="0.5"/>
 <g font-size="11.6" fill="#333">
  <text x="492.4" y="491.1">Contoso Consulting</text>
  <text x="492.4" y="532.7">Contoso Process Industry</text>
  <text x="492.4" y="575.9">Contoso Retail</text>
  <text x="492.4" y="618.5">Contoso Consulting FR</text>
 </g><g font-size="11.6" fill="#333" text-anchor="end">
  <text x="944.3" y="504.4">Retail Operations</text>
  <text x="944.3" y="557.4">Client Services</text>
  <text x="944.3" y="576.8">Human Resources</text>
  <text x="944.3" y="592.9">Legal</text>
  <text x="944.3" y="624.7">Operations</text>
 </g>
</svg>
</body></html>
